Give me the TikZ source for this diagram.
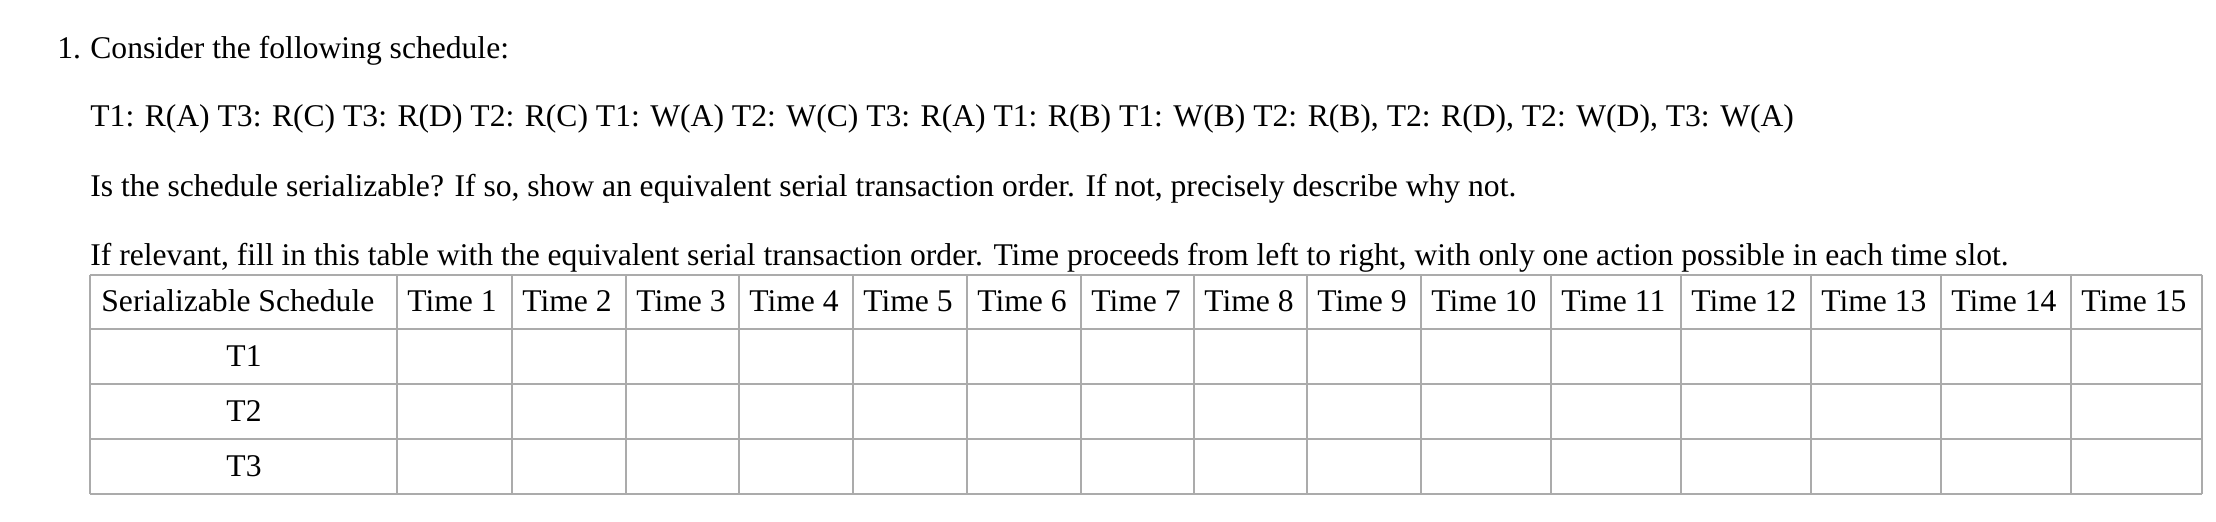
\documentclass[tikz,border=0pt]{standalone}
\usepackage{fontspec}
\setmainfont{Liberation Serif}
\begin{document}
\begin{tikzpicture}[x=0.5pt,y=-0.5pt]
    \tikzstyle{txt}=[anchor=base west,inner sep=0pt,font=\fontsize{15.8}{18}\selectfont]
    \tikzstyle{grid line}=[draw=black!33,line width=1.4pt]
\useasboundingbox (0,0) rectangle (2216,522);

% Enonce
\node[txt] (num) at (57,59) {1.};
\node[txt] (q) at (90,59) {Consider the following schedule:};
\node[txt] (sched) at (90,127) {T1: R(A) T3: R(C) T3: R(D) T2: R(C) T1: W(A) T2: W(C) T3: R(A) T1: R(B) T1: W(B) T2: R(B), T2: R(D), T2: W(D), T3: W(A)};
\node[txt] (ask) at (90,197) {Is the schedule serializable? If so, show an equivalent serial transaction order. If not, precisely describe why not.};
\node[txt] (fill) at (90,266) {If relevant, fill in this table with the equivalent serial transaction order. Time proceeds from left to right, with only one action possible in each time slot.};

% Tableau
\foreach \x in {90,397,512,626,739,853,967,1081,1194,1307,1421,1551,1681,1811,1941,2071,2202}
  \draw[grid line] (\x,275) -- (\x,494);
\foreach \y in {275,329,384,439,494}
  \draw[grid line] (90,\y) -- (2202,\y);

\node[txt] (head) at (101,312) {Serializable Schedule};
\foreach \x [count=\i] in {397,512,626,739,853,967,1081,1194,1307,1421,1551,1681,1811,1941,2071}
  \node[txt] (time-\i) at (\x+10,312) {Time \i};

\node[txt,anchor=base] (T-1) at (244,367) {T1};
\node[txt,anchor=base] (T-2) at (244,422) {T2};
\node[txt,anchor=base] (T-3) at (244,477) {T3};

\end{tikzpicture}
\end{document}
